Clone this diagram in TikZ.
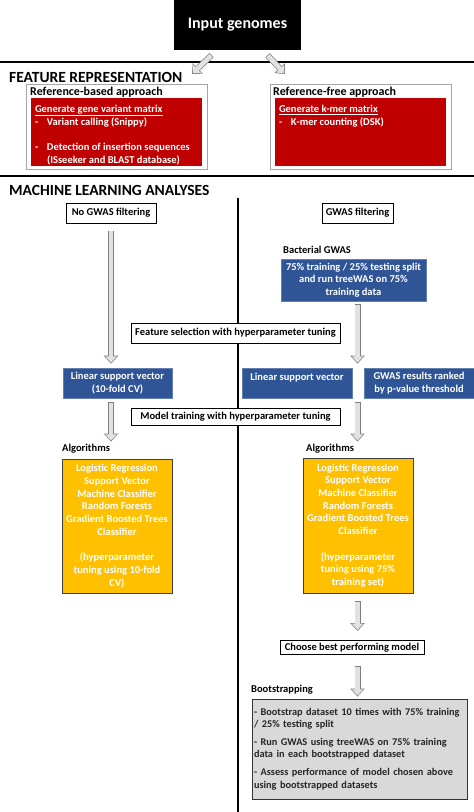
\documentclass[tikz,border=0pt]{standalone}
\usepackage{fontspec}
\setmainfont{Carlito}
\usepackage{xcolor}
\usetikzlibrary{
        arrows.meta,
        shapes,
        positioning
    }
\definecolor{featred}{HTML}{C00000}
\definecolor{mlblue}{HTML}{2F5597}
\definecolor{algorange}{HTML}{FFC000}
\definecolor{bootgray}{HTML}{D9D9D9}
\definecolor{framegray}{HTML}{A6A6A6}
\definecolor{arrowedge}{HTML}{7F7F7F}
\definecolor{arrowfill}{HTML}{E2E2E2}

\begin{document}
\begin{tikzpicture}
[x=1pt, y=-1pt,
every node/.style={font=\bfseries\fontsize{10.5}{12.7}\selectfont, inner sep=0pt},
block/.style={rectangle, draw=black, line width=1pt, fill=white, text centered},
framebox/.style={rectangle, draw=framegray, line width=0.8pt},
redbox/.style={rectangle, fill=featred},
redtext/.style={anchor=north west, text=white, align=left, font=\bfseries\fontsize{10.5}{13.4}\selectfont},
bluebox/.style={rectangle, fill=mlblue, draw=mlblue!75!white, line width=0.6pt, text=white, align=center},
yellowbox/.style={rectangle, fill=algorange, draw=black!75, line width=0.8pt, text=white, align=center},
greybox/.style={rectangle, fill=bootgray, draw=black!80, line width=0.8pt, text=black!85, align=left, text width=211pt, inner sep=2pt, font=\bfseries\fontsize{10.3}{12.3}\selectfont},
heading/.style={anchor=west, font=\bfseries\fontsize{15.5}{18}\selectfont},
subheading/.style={anchor=west, font=\bfseries\fontsize{12}{14}\selectfont},
smalltitle/.style={anchor=west},
sepline/.style={line width=2pt},
fatarrow/.style={draw=arrowfill, line width=4.6pt, shorten <=0.7pt, shorten >=1.1pt, -{Triangle[width=11pt,length=6.2pt]},
  preaction={draw=arrowedge, line width=6pt, shorten <=0pt, shorten >=0pt, -{Triangle[width=14pt,length=8pt]}}},
]
\useasboundingbox (0,0) rectangle (474,812);

\node (input) [rectangle, fill=black, text=white, minimum width=127pt, minimum height=50pt, font=\bfseries\fontsize{16}{19}\selectfont] at (237.5,25) {Input genomes};

\draw [sepline] (0,62) -- (474,62);
\draw [sepline] (0,176) -- (474,176);
\draw [sepline] (238,198) -- (238,812);

% feature representation
\node (feattitle) [heading] at (9,77) {FEATURE REPRESENTATION};

\node (refbased) [framebox, minimum width=181pt, minimum height=85pt] at (116.5,126.5) {};
\node (refbasedtitle) [subheading] at (30,92.5) {Reference-based approach};
\node (refred) [redbox, minimum width=171pt, minimum height=68pt] at (116.5,132) {};
\node (refredtext) [redtext] at ([shift={(4,7)}]refred.north west) {\underline{Generate gene variant matrix}\\
\makebox[12pt][l]{-}Variant calling (Snippy)\\[11pt]
\makebox[12pt][l]{-}Detection of insertion sequences\\
\makebox[12pt][l]{}(ISseeker and BLAST database)};

\node (reffree) [framebox, minimum width=181pt, minimum height=85pt] at (360.5,126.5) {};
\node (reffreetitle) [subheading] at (273,92.5) {Reference-free approach};
\node (freered) [redbox, minimum width=171pt, minimum height=68pt] at (360.5,132) {};
\node (freeredtext) [redtext] at ([shift={(4,7)}]freered.north west) {\underline{Generate k-mer matrix}\\
\makebox[12pt][l]{-}K-mer counting (DSK)};

\coordinate (leftdrop) at (192,74);
\coordinate (rightdrop) at (285,74);
\draw [fatarrow] ([shift={(-26,5)}]input.south) -- (leftdrop);
\draw [fatarrow] ([shift={(30,5)}]input.south) -- (rightdrop);

% machine learning analyses
\node (mltitle) [heading] at (9,190) {MACHINE LEARNING ANALYSES};

\node (nogwas) [block, minimum width=90pt, minimum height=20pt] at (111,213) {No GWAS filtering};
\node (gwas) [block, minimum width=71pt, minimum height=20pt] at (357.5,213) {GWAS filtering};

\node (bacttitle) [smalltitle] at (283,250) {Bacterial GWAS};
\node (splitbox) [bluebox, minimum width=145pt, minimum height=42pt] at (353.5,280) {75\% training / 25\% testing split\\and run treeWAS on 75\%\\training data};

\node (featsel) [block, minimum width=209pt, minimum height=20pt] at (235.5,333) {Feature selection with hyperparameter tuning};

\node (lsvcv) [bluebox, minimum width=109pt, minimum height=30pt] at (117.5,383) {Linear support vector\\(10-fold CV)};
\node (lsv) [bluebox, minimum width=110pt, minimum height=30pt] at (297,383) {Linear support vector\\~};
\node (gwasrank) [bluebox, minimum width=110pt, minimum height=30pt] at (419,383) {GWAS results ranked\\by p-value threshold};

\node (modeltrain) [block, minimum width=209pt, minimum height=17pt] at (235.5,416.5) {Model training with hyperparameter tuning};

\node (algtitlea) [smalltitle] at (62,449) {Algorithms};
\node (algtitleb) [smalltitle] at (306,449) {Algorithms};

\node (algleft) [yellowbox, minimum width=110pt, minimum height=134pt] at (117,526) {Logistic Regression\\Support Vector\\Machine Classifier\\Random Forests\\Gradient Boosted Trees\\Classifier\\[12.7pt](hyperparameter\\tuning using 10-fold\\CV)};
\node (algright) [yellowbox, minimum width=110pt, minimum height=135pt] at (358,525.5) {Logistic Regression\\Support Vector\\Machine Classifier\\Random Forests\\Gradient Boosted Trees\\Classifier\\[12.7pt](hyperparameter\\tuning using 75\%\\training set)};

\node (bestmodel) [block, minimum width=144pt, minimum height=14pt] at (352,647.5) {Choose best performing model};

\node (boottitle) [smalltitle] at (251,690) {Bootstrapping};
\node (bootbox) [greybox, minimum height=100pt] at (359.5,749) {- Bootstrap dataset 10 times with 75\% training\\/ 25\% testing split\\[5.5pt]
- Run GWAS using treeWAS on 75\% training\\data in each bootstrapped dataset\\[5.5pt]
- Assess performance of model chosen above\\using bootstrapped datasets};

\draw [fatarrow] ([yshift=-7pt]nogwas.south) -- ([yshift=4pt]lsvcv.north -| nogwas.south);
\draw [fatarrow] ([yshift=-3pt]splitbox.south -| gwas.south) -- ([yshift=4pt]lsv.north -| gwas.south);
\draw [fatarrow] ([yshift=-4pt]lsvcv.south -| nogwas.south) -- ([yshift=17pt]algleft.north -| nogwas.south);
\draw [fatarrow] ([yshift=-4pt]lsv.south -| gwas.south) -- ([yshift=16pt]algright.north -| gwas.south);
\draw [fatarrow] ([yshift=-8pt]algright.south -| gwas.south) -- ([yshift=9pt]bestmodel.north -| gwas.south);
\draw [fatarrow] ([yshift=-11pt]bestmodel.south -| gwas.south) -- ([yshift=2pt]bootbox.north -| gwas.south);

\end{tikzpicture}
\end{document}
